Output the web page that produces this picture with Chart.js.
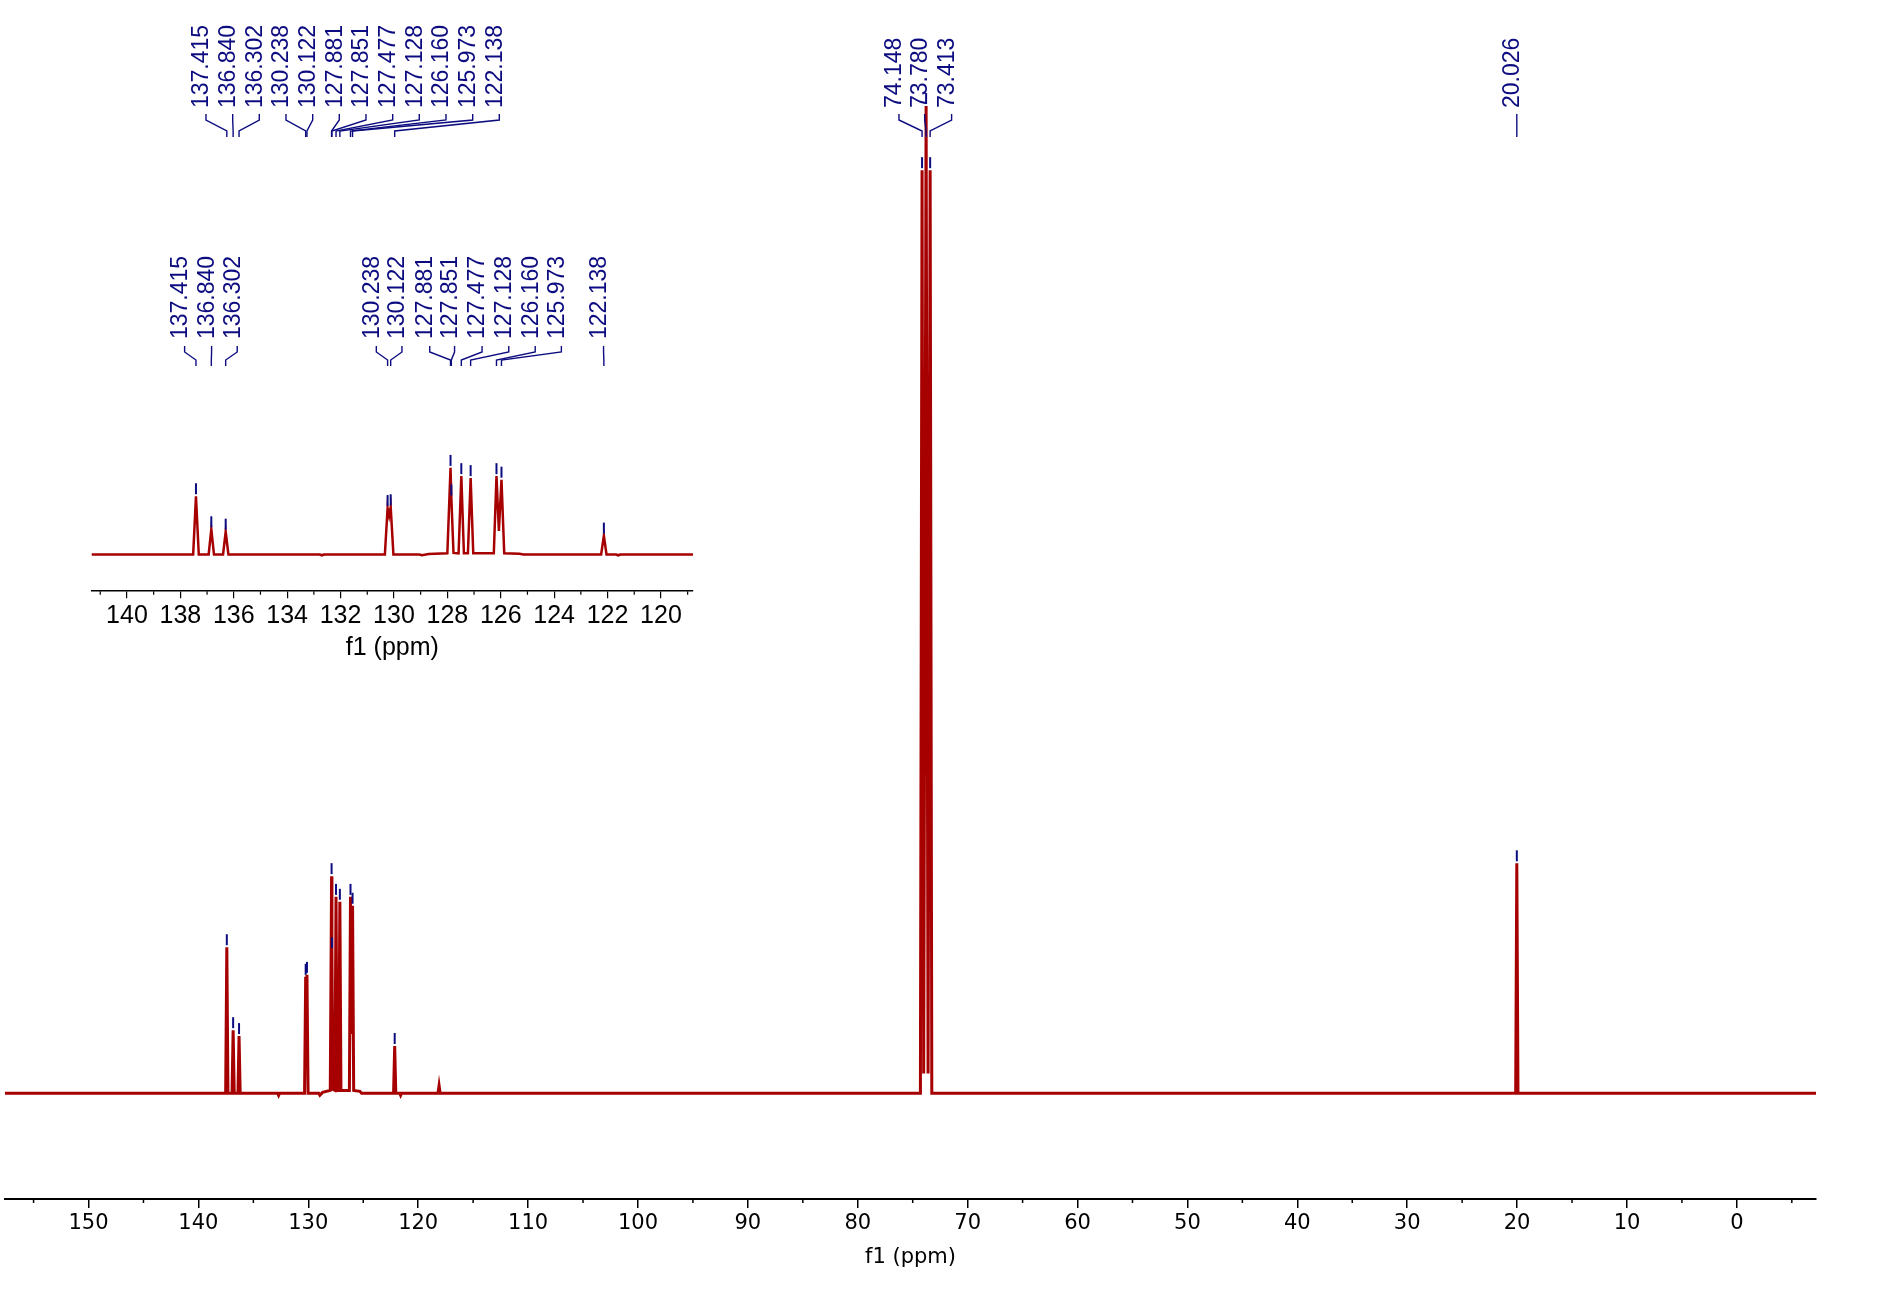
<!DOCTYPE html>
<html>
<head>
<meta charset="utf-8">
<title>13C NMR f1 (ppm)</title>
<script src="https://cdn.jsdelivr.net/npm/chart.js@4.4.1/dist/chart.umd.min.js"></script>
<style>
    html, body { margin: 0; padding: 0; background: #fff; }
    #wrap { position: relative; width: 1881px; height: 1292px; }
    #main-chart { position: absolute; left: 0; top: 0; }
    #inset-chart { position: absolute; left: 0; top: 200px; }
</style>
</head>
<body>
<div id="wrap">
    <canvas id="main-chart" width="1881" height="1292"></canvas>
    <canvas id="inset-chart" width="760" height="480"></canvas>
</div>
<script>
// trace vertices (ppm / intensity relative to 73.780)
const specPpm = [157.6, 137.52, 137.415, 137.31, 136.94, 136.84, 136.74, 136.40, 136.302, 136.20,
    132.78, 132.70, 132.62, 130.34, 130.238, 130.18, 130.122, 130.02, 129.05, 128.95, 128.70,
    128.0, 127.881, 127.851, 127.77, 127.58, 127.477, 127.38, 127.23, 127.128, 127.03,
    126.26, 126.16, 126.07, 125.973, 125.87, 125.30, 125.15, 122.24, 122.138, 122.04,
    121.68, 121.60, 121.52, 118.20, 118.10, 118.00,
    74.30, 74.148, 74.00, 73.78, 73.60, 73.413, 73.26, 20.13, 20.026, 19.92, -7.2];
const specInt = [0, 0, 0.148, 0, 0, 0.064, 0, 0, 0.058, 0,
    0, -0.002, 0, 0, 0.118, 0.098, 0.12, 0, 0, -0.002, 0.001,
    0.003, 0.22, 0.145, 0.004, 0.003, 0.199, 0.003, 0.003, 0.194, 0.003,
    0.003, 0.199, 0.06, 0.19, 0.003, 0.002, 0, 0, 0.048, 0,
    0, -0.002, 0, 0, 0.008, 0,
    0, 0.935, 0.02, 1.0, 0.02, 0.935, 0, 0, 0.233, 0, 0];

// picked peaks
const peakPpm = [137.415, 136.840, 136.302, 130.238, 130.122, 127.881, 127.851, 127.477,
    127.128, 126.160, 125.973, 122.138, 74.148, 73.780, 73.413, 20.026];
const peakInt = [0.148, 0.064, 0.058, 0.118, 0.12, 0.22, 0.145, 0.199,
    0.194, 0.199, 0.19, 0.048, 0.935, 1.0, 0.935, 0.233];

// axis ticks
const mainMajorTicks = [150, 140, 130, 120, 110, 100, 90, 80, 70, 60, 50, 40, 30, 20, 10, 0];
const mainMinorTicks = [155, 145, 135, 125, 115, 105, 95, 85, 75, 65, 55, 45, 35, 25, 15, 5, -5];
const insetMajorTicks = [140, 138, 136, 134, 132, 130, 128, 126, 124, 122, 120];
const insetMinorTicks = [141, 139, 137, 135, 133, 131, 129, 127, 125, 123, 121, 119];
const axisTitle = "f1 (ppm)";

// where the label stacks sit (ppm along the axis), layout only
const mainSlots = [139.31, 136.88, 134.46, 132.03, 129.60, 127.18, 124.75, 122.32,
    119.90, 117.47, 115.04, 112.62, 76.25, 73.91, 71.46, 20.026];
const insetSlots = [137.84, 136.83, 135.87, 130.66, 129.70, 128.66, 127.73, 126.70,
    125.70, 124.71, 123.73, 122.15];

const RED = "#a60000";
const NAVY = "#0c0c80";

function traceData() {
    return specPpm.map((p, i) => ({ x: p, y: specInt[i] }));
}

// peak labels, connectors and small markers over each peak
function peakLabelPlugin(opts) {
    return {
        id: opts.id,
        afterDatasetsDraw(chart) {
            const ctx = chart.ctx;
            const xs = chart.scales.x;
            const ys = chart.scales.y;
            ctx.save();
            ctx.strokeStyle = NAVY;
            ctx.fillStyle = NAVY;
            opts.slots.forEach(function (slot, i) {
                const px = xs.getPixelForValue(peakPpm[i]);
                const lx = xs.getPixelForValue(slot);
                const py = ys.getPixelForValue(peakInt[i]);

                ctx.lineWidth = 1.4;
                ctx.beginPath();
                ctx.moveTo(lx, opts.y0);
                ctx.lineTo(lx, opts.y1);
                ctx.lineTo(px, opts.y2);
                ctx.lineTo(px, opts.y3);
                ctx.stroke();

                ctx.lineWidth = 2;
                ctx.beginPath();
                ctx.moveTo(px, py - 13);
                ctx.lineTo(px, py - 2);
                ctx.stroke();

                ctx.save();
                ctx.translate(lx - 4, opts.textY);
                ctx.rotate(-Math.PI / 2);
                ctx.font = '23px "Liberation Sans", Arial, sans-serif';
                ctx.textAlign = "left";
                ctx.textBaseline = "middle";
                ctx.fillText(peakPpm[i].toFixed(3), 0, 0);
                ctx.restore();
            });
            ctx.restore();
        }
    };
}

// short unlabelled ticks between the major ones
function minorTickPlugin(id, ticks, len, width) {
    return {
        id: id,
        afterDraw(chart) {
            const ctx = chart.ctx;
            const xs = chart.scales.x;
            ctx.save();
            ctx.strokeStyle = "#000";
            ctx.lineWidth = width;
            ctx.beginPath();
            ticks.forEach(v => {
                const x = xs.getPixelForValue(v);
                ctx.moveTo(x, xs.top);
                ctx.lineTo(x, xs.top + len);
            });
            ctx.stroke();
            ctx.restore();
        }
    };
}

function makeChart(canvasId, cfg) {
    return new Chart(document.getElementById(canvasId), {
        type: "scatter",
        data: {
            datasets: [{
                data: traceData(),
                showLine: true,
                borderColor: RED,
                borderWidth: cfg.lineWidth,
                pointRadius: 0,
                tension: 0
            }]
        },
        options: {
            responsive: false,
            animation: false,
            events: [],
            layout: { padding: cfg.padding },
            plugins: { legend: { display: false }, tooltip: { enabled: false } },
            scales: {
                x: {
                    type: "linear",
                    reverse: true,
                    min: cfg.xMin,
                    max: cfg.xMax,
                    afterBuildTicks: axis => {
                        axis.ticks = cfg.majorTicks.slice().sort((a, b) => a - b).map(v => ({ value: v }));
                    },
                    grid: {
                        display: true,
                        drawOnChartArea: false,
                        drawTicks: true,
                        tickLength: cfg.tickLength,
                        color: "#000",
                        lineWidth: cfg.tickWidth
                    },
                    border: { display: true, color: "#000", width: cfg.borderWidth },
                    ticks: {
                        autoSkip: false,
                        maxRotation: 0,
                        padding: cfg.tickPadding,
                        color: "#000",
                        font: cfg.tickFont,
                        callback: v => String(v)
                    },
                    title: {
                        display: true,
                        text: axisTitle,
                        color: "#000",
                        font: cfg.tickFont,
                        padding: { top: cfg.titleGap, bottom: 0 }
                    }
                },
                y: { display: false, min: cfg.yMin, max: cfg.yMax }
            }
        },
        plugins: cfg.plugins
    });
}

makeChart("main-chart", {
    lineWidth: 3,
    padding: { left: 5, right: 65, top: 106, bottom: 24 },
    xMin: -7.2, xMax: 157.6,
    yMin: -0.107, yMax: 1.0,
    majorTicks: mainMajorTicks,
    tickLength: 9, tickWidth: 1.5, borderWidth: 2, tickPadding: 5.5,
    tickFont: { family: "DejaVu Sans", size: 21, lineHeight: 1 },
    titleGap: 7,
    plugins: [
        minorTickPlugin("mainMinor", mainMinorTicks, 4, 1.5),
        peakLabelPlugin({ id: "mainLabels", slots: mainSlots, textY: 108, y0: 114, y1: 120, y2: 131, y3: 137 })
    ]
});

makeChart("inset-chart", {
    lineWidth: 2.5,
    padding: { left: 91.7, right: 67, top: 173.4, bottom: 19.8 },
    xMin: 118.8, xMax: 141.32,
    yMin: -0.0932, yMax: 0.46,
    majorTicks: insetMajorTicks,
    tickLength: 7, tickWidth: 1.2, borderWidth: 1.5, tickPadding: 5,
    tickFont: { family: "Liberation Sans", size: 25, lineHeight: 1 },
    titleGap: 2,
    plugins: [
        minorTickPlugin("insetMinor", insetMinorTicks, 3.5, 1.2),
        peakLabelPlugin({ id: "insetLabels", slots: insetSlots, textY: 139, y0: 146, y1: 152, y2: 160, y3: 166 })
    ]
});
</script>
</body>
</html>
